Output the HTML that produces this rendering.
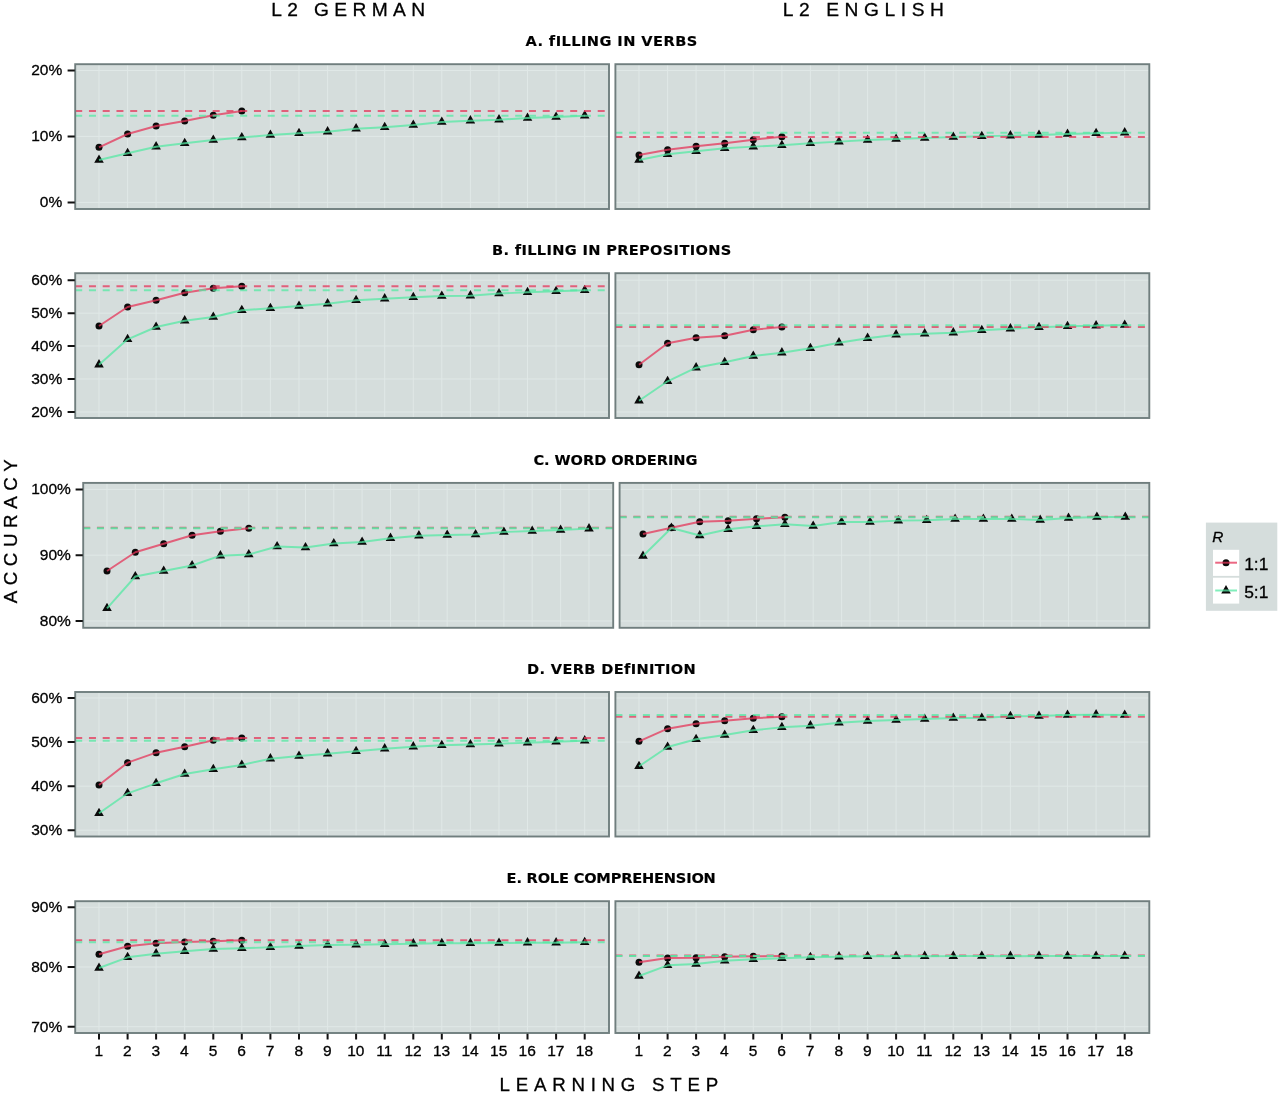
<!DOCTYPE html>
<html lang="en"><head><meta charset="utf-8"><title>Learning curves</title>
<style>html,body{margin:0;padding:0;background:#fff}svg{display:block}text{font-family:"Liberation Sans", Arial, Helvetica, sans-serif;fill:#000;stroke:#000;stroke-width:0.3px}.t{font-family:"DejaVu Sans", "Liberation Sans", sans-serif;font-weight:bold;font-size:14.6px;fill:#000;stroke-width:0.15px}.ax{font-size:15.5px}.hd{font-size:19.2px;letter-spacing:5.35px}</style></head><body>
<svg width="1283" height="1094" viewBox="0 0 1283 1094">
<rect width="1283" height="1094" fill="#fff"/>
<text class="t" x="525.4" y="46.2" textLength="171.8" lengthAdjust="spacing">A. fILLING IN VERBS</text>
<g>
<rect x="75.2" y="64.2" width="533.8" height="144.8" fill="#d5dddc"/>
<path d="M75.2 70.5H609M75.2 136.4H609M75.2 202.4H609M99.0 64.2V209M127.6 64.2V209M156.1 64.2V209M184.7 64.2V209M213.3 64.2V209M241.8 64.2V209M270.4 64.2V209M299.0 64.2V209M327.6 64.2V209M356.1 64.2V209M384.7 64.2V209M413.3 64.2V209M441.8 64.2V209M470.4 64.2V209M499.0 64.2V209M527.5 64.2V209M556.1 64.2V209M584.7 64.2V209" stroke="#e0e8e7" stroke-width="1" fill="none"/>
<g fill="#0a0a0a"><circle cx="99.0" cy="147.3" r="3.5"/><circle cx="127.6" cy="134" r="3.5"/><circle cx="156.1" cy="126" r="3.5"/><circle cx="184.7" cy="121" r="3.5"/><circle cx="213.3" cy="115.3" r="3.5"/><circle cx="241.8" cy="111" r="3.5"/></g>
<path d="M99.0 154.4L103.8 162.8L94.2 162.8ZM127.6 147.7L132.4 156.1L122.8 156.1ZM156.1 141.1L160.9 149.5L151.3 149.5ZM184.7 137.7L189.5 146.1L179.9 146.1ZM213.3 134.4L218.1 142.8L208.5 142.8ZM241.8 131.9L246.7 140.3L237.0 140.3ZM270.4 129.4L275.2 137.8L265.6 137.8ZM299.0 127.7L303.8 136.1L294.2 136.1ZM327.6 126.1L332.4 134.5L322.8 134.5ZM356.1 123.1L360.9 131.5L351.3 131.5ZM384.7 121.7L389.5 130.1L379.9 130.1ZM413.3 119.4L418.1 127.8L408.5 127.8ZM441.8 116.4L446.6 124.8L437.0 124.8ZM470.4 115.1L475.2 123.5L465.6 123.5ZM499.0 114.1L503.8 122.5L494.2 122.5ZM527.5 112.4L532.3 120.8L522.8 120.8ZM556.1 111.4L560.9 119.8L551.3 119.8ZM584.7 110.1L589.5 118.5L579.9 118.5Z" fill="#0a0a0a"/>
<path d="M99.0 147.3L127.6 134L156.1 126L184.7 121L213.3 115.3L241.8 111" stroke="#e4365a" stroke-opacity=".75" stroke-width="1.95" fill="none" stroke-linejoin="round"/>
<path d="M99.0 160L127.6 153.3L156.1 146.7L184.7 143.3L213.3 140L241.8 137.5L270.4 135L299.0 133.3L327.6 131.7L356.1 128.7L384.7 127.3L413.3 125L441.8 122L470.4 120.7L499.0 119.7L527.5 118L556.1 117L584.7 115.7" stroke="#55e8a4" stroke-opacity=".75" stroke-width="1.95" fill="none" stroke-linejoin="round"/>
<path d="M75.2 111H609" stroke="#e4365a" stroke-opacity=".75" stroke-width="2.1" stroke-dasharray="7 6.75" fill="none"/>
<path d="M75.2 115.7H609" stroke="#55e8a4" stroke-opacity="0.75" stroke-width="2.1" stroke-dasharray="7 6.75" fill="none"/>
<rect x="75.2" y="64.2" width="533.8" height="144.8" fill="none" stroke="#707e7e" stroke-width="1.9"/>
</g>
<g>
<rect x="615.4" y="64.2" width="533.9" height="144.8" fill="#d5dddc"/>
<path d="M615.4 70.5H1149.3M615.4 136.4H1149.3M615.4 202.4H1149.3M639.0 64.2V209M667.6 64.2V209M696.1 64.2V209M724.7 64.2V209M753.3 64.2V209M781.9 64.2V209M810.4 64.2V209M839.0 64.2V209M867.6 64.2V209M896.1 64.2V209M924.7 64.2V209M953.3 64.2V209M981.8 64.2V209M1010.4 64.2V209M1039.0 64.2V209M1067.5 64.2V209M1096.1 64.2V209M1124.7 64.2V209" stroke="#e0e8e7" stroke-width="1" fill="none"/>
<g fill="#0a0a0a"><circle cx="639.0" cy="155" r="3.5"/><circle cx="667.6" cy="149.7" r="3.5"/><circle cx="696.1" cy="146.3" r="3.5"/><circle cx="724.7" cy="143.3" r="3.5"/><circle cx="753.3" cy="139.7" r="3.5"/><circle cx="781.9" cy="136.7" r="3.5"/></g>
<path d="M639.0 154.4L643.8 162.8L634.2 162.8ZM667.6 148.7L672.4 157.1L662.8 157.1ZM696.1 145.7L700.9 154.1L691.3 154.1ZM724.7 142.7L729.5 151.1L719.9 151.1ZM753.3 141.0L758.1 149.4L748.5 149.4ZM781.9 139.7L786.6 148.1L777.1 148.1ZM810.4 137.7L815.2 146.1L805.6 146.1ZM839.0 136.0L843.8 144.4L834.2 144.4ZM867.6 134.4L872.4 142.8L862.8 142.8ZM896.1 133.4L900.9 141.8L891.3 141.8ZM924.7 132.4L929.5 140.8L919.9 140.8ZM953.3 131.4L958.1 139.8L948.5 139.8ZM981.8 130.7L986.6 139.1L977.0 139.1ZM1010.4 130.0L1015.2 138.4L1005.6 138.4ZM1039.0 129.4L1043.8 137.8L1034.2 137.8ZM1067.5 128.4L1072.3 136.8L1062.8 136.8ZM1096.1 127.7L1100.9 136.1L1091.3 136.1ZM1124.7 127.1L1129.5 135.5L1119.9 135.5Z" fill="#0a0a0a"/>
<path d="M639.0 155L667.6 149.7L696.1 146.3L724.7 143.3L753.3 139.7L781.9 136.7" stroke="#e4365a" stroke-opacity=".75" stroke-width="1.95" fill="none" stroke-linejoin="round"/>
<path d="M639.0 160L667.6 154.3L696.1 151.3L724.7 148.3L753.3 146.6L781.9 145.3L810.4 143.3L839.0 141.6L867.6 140L896.1 139L924.7 138L953.3 137L981.8 136.3L1010.4 135.6L1039.0 135L1067.5 134L1096.1 133.3L1124.7 132.7" stroke="#55e8a4" stroke-opacity=".75" stroke-width="1.95" fill="none" stroke-linejoin="round"/>
<path d="M615.4 137H1149.3" stroke="#e4365a" stroke-opacity=".75" stroke-width="2.1" stroke-dasharray="7 6.75" fill="none"/>
<path d="M615.4 132.7H1149.3" stroke="#55e8a4" stroke-opacity="0.75" stroke-width="2.1" stroke-dasharray="7 6.75" fill="none"/>
<rect x="615.4" y="64.2" width="533.9" height="144.8" fill="none" stroke="#707e7e" stroke-width="1.9"/>
</g>
<text class="ax" x="62.2" y="75.3" text-anchor="end">20%</text>
<text class="ax" x="62.2" y="141.2" text-anchor="end">10%</text>
<text class="ax" x="62.2" y="207.2" text-anchor="end">0%</text>
<path d="M67.6 70.5H74.8M67.6 136.4H74.8M67.6 202.4H74.8" stroke="#111" stroke-width="2" fill="none"/>
<text class="t" x="492" y="255" textLength="239.2" lengthAdjust="spacing">B. fILLING IN PREPOSITIONS</text>
<g>
<rect x="75.2" y="273.2" width="533.8" height="144.8" fill="#d5dddc"/>
<path d="M75.2 280.2H609M75.2 313.2H609M75.2 346H609M75.2 379H609M75.2 412H609M99.0 273.2V418M127.6 273.2V418M156.1 273.2V418M184.7 273.2V418M213.3 273.2V418M241.8 273.2V418M270.4 273.2V418M299.0 273.2V418M327.6 273.2V418M356.1 273.2V418M384.7 273.2V418M413.3 273.2V418M441.8 273.2V418M470.4 273.2V418M499.0 273.2V418M527.5 273.2V418M556.1 273.2V418M584.7 273.2V418" stroke="#e0e8e7" stroke-width="1" fill="none"/>
<g fill="#0a0a0a"><circle cx="99.0" cy="326" r="3.5"/><circle cx="127.6" cy="307" r="3.5"/><circle cx="156.1" cy="300.3" r="3.5"/><circle cx="184.7" cy="292.7" r="3.5"/><circle cx="213.3" cy="288.3" r="3.5"/><circle cx="241.8" cy="286.3" r="3.5"/></g>
<path d="M99.0 359.1L103.8 367.5L94.2 367.5ZM127.6 333.7L132.4 342.1L122.8 342.1ZM156.1 321.4L160.9 329.8L151.3 329.8ZM184.7 315.1L189.5 323.5L179.9 323.5ZM213.3 311.4L218.1 319.8L208.5 319.8ZM241.8 304.7L246.7 313.1L237.0 313.1ZM270.4 302.7L275.2 311.1L265.6 311.1ZM299.0 300.4L303.8 308.8L294.2 308.8ZM327.6 298.1L332.4 306.5L322.8 306.5ZM356.1 294.7L360.9 303.1L351.3 303.1ZM384.7 293.1L389.5 301.5L379.9 301.5ZM413.3 291.7L418.1 300.1L408.5 300.1ZM441.8 290.4L446.6 298.8L437.0 298.8ZM470.4 290.1L475.2 298.5L465.6 298.5ZM499.0 287.9L503.8 296.3L494.2 296.3ZM527.5 286.7L532.3 295.1L522.8 295.1ZM556.1 285.7L560.9 294.1L551.3 294.1ZM584.7 284.7L589.5 293.1L579.9 293.1Z" fill="#0a0a0a"/>
<path d="M99.0 326L127.6 307L156.1 300.3L184.7 292.7L213.3 288.3L241.8 286.3" stroke="#e4365a" stroke-opacity=".75" stroke-width="1.95" fill="none" stroke-linejoin="round"/>
<path d="M99.0 364.7L127.6 339.3L156.1 327L184.7 320.7L213.3 317L241.8 310.3L270.4 308.3L299.0 306L327.6 303.7L356.1 300.3L384.7 298.7L413.3 297.3L441.8 296L470.4 295.7L499.0 293.5L527.5 292.3L556.1 291.3L584.7 290.3" stroke="#55e8a4" stroke-opacity=".75" stroke-width="1.95" fill="none" stroke-linejoin="round"/>
<path d="M75.2 286.3H609" stroke="#e4365a" stroke-opacity=".75" stroke-width="2.1" stroke-dasharray="7 6.75" fill="none"/>
<path d="M75.2 290.3H609" stroke="#55e8a4" stroke-opacity="0.75" stroke-width="2.1" stroke-dasharray="7 6.75" fill="none"/>
<rect x="75.2" y="273.2" width="533.8" height="144.8" fill="none" stroke="#707e7e" stroke-width="1.9"/>
</g>
<g>
<rect x="615.4" y="273.2" width="533.9" height="144.8" fill="#d5dddc"/>
<path d="M615.4 280.2H1149.3M615.4 313.2H1149.3M615.4 346H1149.3M615.4 379H1149.3M615.4 412H1149.3M639.0 273.2V418M667.6 273.2V418M696.1 273.2V418M724.7 273.2V418M753.3 273.2V418M781.9 273.2V418M810.4 273.2V418M839.0 273.2V418M867.6 273.2V418M896.1 273.2V418M924.7 273.2V418M953.3 273.2V418M981.8 273.2V418M1010.4 273.2V418M1039.0 273.2V418M1067.5 273.2V418M1096.1 273.2V418M1124.7 273.2V418" stroke="#e0e8e7" stroke-width="1" fill="none"/>
<g fill="#0a0a0a"><circle cx="639.0" cy="364.7" r="3.5"/><circle cx="667.6" cy="343.3" r="3.5"/><circle cx="696.1" cy="337.7" r="3.5"/><circle cx="724.7" cy="335.7" r="3.5"/><circle cx="753.3" cy="329.7" r="3.5"/><circle cx="781.9" cy="327" r="3.5"/></g>
<path d="M639.0 395.1L643.8 403.5L634.2 403.5ZM667.6 375.7L672.4 384.1L662.8 384.1ZM696.1 362.1L700.9 370.5L691.3 370.5ZM724.7 356.7L729.5 365.1L719.9 365.1ZM753.3 350.4L758.1 358.8L748.5 358.8ZM781.9 347.1L786.6 355.5L777.1 355.5ZM810.4 342.7L815.2 351.1L805.6 351.1ZM839.0 337.1L843.8 345.5L834.2 345.5ZM867.6 332.6L872.4 341.0L862.8 341.0ZM896.1 329.1L900.9 337.5L891.3 337.5ZM924.7 328.1L929.5 336.5L919.9 336.5ZM953.3 327.1L958.1 335.5L948.5 335.5ZM981.8 324.7L986.6 333.1L977.0 333.1ZM1010.4 323.1L1015.2 331.5L1005.6 331.5ZM1039.0 321.7L1043.8 330.1L1034.2 330.1ZM1067.5 320.7L1072.3 329.1L1062.8 329.1ZM1096.1 320.1L1100.9 328.5L1091.3 328.5ZM1124.7 319.4L1129.5 327.8L1119.9 327.8Z" fill="#0a0a0a"/>
<path d="M639.0 364.7L667.6 343.3L696.1 337.7L724.7 335.7L753.3 329.7L781.9 327" stroke="#e4365a" stroke-opacity=".75" stroke-width="1.95" fill="none" stroke-linejoin="round"/>
<path d="M639.0 400.7L667.6 381.3L696.1 367.7L724.7 362.3L753.3 356L781.9 352.7L810.4 348.3L839.0 342.7L867.6 338.2L896.1 334.7L924.7 333.7L953.3 332.7L981.8 330.3L1010.4 328.7L1039.0 327.3L1067.5 326.3L1096.1 325.7L1124.7 325" stroke="#55e8a4" stroke-opacity=".75" stroke-width="1.95" fill="none" stroke-linejoin="round"/>
<path d="M615.4 327H1149.3" stroke="#e4365a" stroke-opacity=".75" stroke-width="2.1" stroke-dasharray="7 6.75" fill="none"/>
<path d="M615.4 325.3H1149.3" stroke="#55e8a4" stroke-opacity="0.75" stroke-width="2.1" stroke-dasharray="7 6.75" fill="none"/>
<rect x="615.4" y="273.2" width="533.9" height="144.8" fill="none" stroke="#707e7e" stroke-width="1.9"/>
</g>
<text class="ax" x="62.2" y="285.0" text-anchor="end">60%</text>
<text class="ax" x="62.2" y="318.0" text-anchor="end">50%</text>
<text class="ax" x="62.2" y="350.8" text-anchor="end">40%</text>
<text class="ax" x="62.2" y="383.8" text-anchor="end">30%</text>
<text class="ax" x="62.2" y="416.8" text-anchor="end">20%</text>
<path d="M67.6 280.2H74.8M67.6 313.2H74.8M67.6 346H74.8M67.6 379H74.8M67.6 412H74.8" stroke="#111" stroke-width="2" fill="none"/>
<text class="t" x="533.4" y="465" textLength="164.0" lengthAdjust="spacing">C. WORD ORDERING</text>
<g>
<rect x="83.2" y="482.9" width="530.0" height="144.9" fill="#d5dddc"/>
<path d="M83.2 489.4H613.2M83.2 555.2H613.2M83.2 621H613.2M107.0 482.9V627.8M135.3 482.9V627.8M163.7 482.9V627.8M192.1 482.9V627.8M220.4 482.9V627.8M248.8 482.9V627.8M277.1 482.9V627.8M305.5 482.9V627.8M333.8 482.9V627.8M362.1 482.9V627.8M390.5 482.9V627.8M418.9 482.9V627.8M447.2 482.9V627.8M475.6 482.9V627.8M503.9 482.9V627.8M532.2 482.9V627.8M560.6 482.9V627.8M589.0 482.9V627.8" stroke="#e0e8e7" stroke-width="1" fill="none"/>
<g fill="#0a0a0a"><circle cx="107.0" cy="571" r="3.5"/><circle cx="135.3" cy="552.3" r="3.5"/><circle cx="163.7" cy="543.7" r="3.5"/><circle cx="192.1" cy="535.3" r="3.5"/><circle cx="220.4" cy="531.3" r="3.5"/><circle cx="248.8" cy="528.3" r="3.5"/></g>
<path d="M107.0 602.7L111.8 611.1L102.2 611.1ZM135.3 570.9L140.2 579.3L130.5 579.3ZM163.7 565.4L168.5 573.8L158.9 573.8ZM192.1 559.9L196.9 568.3L187.2 568.3ZM220.4 550.1L225.2 558.5L215.6 558.5ZM248.8 548.9L253.6 557.3L243.9 557.3ZM277.1 540.9L281.9 549.3L272.3 549.3ZM305.5 541.9L310.3 550.3L300.7 550.3ZM333.8 537.9L338.6 546.3L329.0 546.3ZM362.1 536.4L366.9 544.8L357.3 544.8ZM390.5 532.6L395.3 541.0L385.7 541.0ZM418.9 530.1L423.7 538.5L414.1 538.5ZM447.2 529.4L452.0 537.8L442.4 537.8ZM475.6 528.9L480.4 537.3L470.8 537.3ZM503.9 526.4L508.7 534.8L499.1 534.8ZM532.2 525.4L537.0 533.8L527.5 533.8ZM560.6 524.4L565.4 532.8L555.8 532.8ZM589.0 523.0L593.8 531.4L584.2 531.4Z" fill="#0a0a0a"/>
<path d="M107.0 571L135.3 552.3L163.7 543.7L192.1 535.3L220.4 531.3L248.8 528.3" stroke="#e4365a" stroke-opacity=".75" stroke-width="1.95" fill="none" stroke-linejoin="round"/>
<path d="M107.0 608.3L135.3 576.5L163.7 571L192.1 565.5L220.4 555.7L248.8 554.5L277.1 546.5L305.5 547.5L333.8 543.5L362.1 542L390.5 538.2L418.9 535.7L447.2 535L475.6 534.5L503.9 532L532.2 531L560.6 530L589.0 528.6" stroke="#55e8a4" stroke-opacity=".75" stroke-width="1.95" fill="none" stroke-linejoin="round"/>
<path d="M83.2 527.8H613.2" stroke="#e4365a" stroke-opacity=".75" stroke-width="2.1" stroke-dasharray="7 6.75" fill="none"/>
<path d="M83.2 528.3H613.2" stroke="#55e8a4" stroke-opacity="0.9" stroke-width="2.1" stroke-dasharray="7 6.75" fill="none"/>
<rect x="83.2" y="482.9" width="530.0" height="144.9" fill="none" stroke="#707e7e" stroke-width="1.9"/>
</g>
<g>
<rect x="619.6" y="482.9" width="529.7" height="144.9" fill="#d5dddc"/>
<path d="M619.6 489.4H1149.3M619.6 555.2H1149.3M619.6 621H1149.3M643.0 482.9V627.8M671.4 482.9V627.8M699.7 482.9V627.8M728.1 482.9V627.8M756.5 482.9V627.8M784.9 482.9V627.8M813.2 482.9V627.8M841.6 482.9V627.8M870.0 482.9V627.8M898.3 482.9V627.8M926.7 482.9V627.8M955.1 482.9V627.8M983.4 482.9V627.8M1011.8 482.9V627.8M1040.2 482.9V627.8M1068.5 482.9V627.8M1096.9 482.9V627.8M1125.3 482.9V627.8" stroke="#e0e8e7" stroke-width="1" fill="none"/>
<g fill="#0a0a0a"><circle cx="643.0" cy="534" r="3.5"/><circle cx="671.4" cy="527.7" r="3.5"/><circle cx="699.7" cy="521.7" r="3.5"/><circle cx="728.1" cy="520.7" r="3.5"/><circle cx="756.5" cy="518.7" r="3.5"/><circle cx="784.9" cy="517.3" r="3.5"/></g>
<path d="M643.0 550.4L647.8 558.8L638.2 558.8ZM671.4 522.4L676.2 530.8L666.6 530.8ZM699.7 529.9L704.5 538.3L694.9 538.3ZM728.1 523.7L732.9 532.1L723.3 532.1ZM756.5 520.7L761.3 529.1L751.7 529.1ZM784.9 518.7L789.6 527.1L780.1 527.1ZM813.2 520.4L818.0 528.8L808.4 528.8ZM841.6 516.4L846.4 524.8L836.8 524.8ZM870.0 516.4L874.8 524.8L865.2 524.8ZM898.3 515.0L903.1 523.4L893.5 523.4ZM926.7 514.7L931.5 523.1L921.9 523.1ZM955.1 513.4L959.9 521.8L950.3 521.8ZM983.4 513.4L988.2 521.8L978.6 521.8ZM1011.8 513.4L1016.6 521.8L1007.0 521.8ZM1040.2 514.4L1045.0 522.8L1035.4 522.8ZM1068.5 512.4L1073.3 520.8L1063.8 520.8ZM1096.9 511.4L1101.7 519.8L1092.1 519.8ZM1125.3 511.4L1130.1 519.8L1120.5 519.8Z" fill="#0a0a0a"/>
<path d="M643.0 534L671.4 527.7L699.7 521.7L728.1 520.7L756.5 518.7L784.9 517.3" stroke="#e4365a" stroke-opacity=".75" stroke-width="1.95" fill="none" stroke-linejoin="round"/>
<path d="M643.0 556L671.4 528L699.7 535.5L728.1 529.3L756.5 526.3L784.9 524.3L813.2 526L841.6 522L870.0 522L898.3 520.6L926.7 520.3L955.1 519L983.4 519L1011.8 519L1040.2 520L1068.5 518L1096.9 517L1125.3 517" stroke="#55e8a4" stroke-opacity=".75" stroke-width="1.95" fill="none" stroke-linejoin="round"/>
<path d="M619.6 516.8H1149.3" stroke="#e4365a" stroke-opacity=".75" stroke-width="2.1" stroke-dasharray="7 6.75" fill="none"/>
<path d="M619.6 517.3H1149.3" stroke="#55e8a4" stroke-opacity="0.9" stroke-width="2.1" stroke-dasharray="7 6.75" fill="none"/>
<rect x="619.6" y="482.9" width="529.7" height="144.9" fill="none" stroke="#707e7e" stroke-width="1.9"/>
</g>
<text class="ax" x="70.9" y="494.2" text-anchor="end">100%</text>
<text class="ax" x="70.9" y="560.0" text-anchor="end">90%</text>
<text class="ax" x="70.9" y="625.8" text-anchor="end">80%</text>
<path d="M75.6 489.4H82.8M75.6 555.2H82.8M75.6 621H82.8" stroke="#111" stroke-width="2" fill="none"/>
<text class="t" x="527" y="673.8" textLength="168.8" lengthAdjust="spacing">D. VERB DEfINITION</text>
<g>
<rect x="75.2" y="692" width="533.8" height="144.5" fill="#d5dddc"/>
<path d="M75.2 698H609M75.2 742.1H609M75.2 786.2H609M75.2 830.2H609M99.0 692V836.5M127.6 692V836.5M156.1 692V836.5M184.7 692V836.5M213.3 692V836.5M241.8 692V836.5M270.4 692V836.5M299.0 692V836.5M327.6 692V836.5M356.1 692V836.5M384.7 692V836.5M413.3 692V836.5M441.8 692V836.5M470.4 692V836.5M499.0 692V836.5M527.5 692V836.5M556.1 692V836.5M584.7 692V836.5" stroke="#e0e8e7" stroke-width="1" fill="none"/>
<g fill="#0a0a0a"><circle cx="99.0" cy="785" r="3.5"/><circle cx="127.6" cy="762.7" r="3.5"/><circle cx="156.1" cy="752.7" r="3.5"/><circle cx="184.7" cy="746.7" r="3.5"/><circle cx="213.3" cy="740.3" r="3.5"/><circle cx="241.8" cy="738" r="3.5"/></g>
<path d="M99.0 807.7L103.8 816.1L94.2 816.1ZM127.6 787.7L132.4 796.1L122.8 796.1ZM156.1 777.7L160.9 786.1L151.3 786.1ZM184.7 768.4L189.5 776.8L179.9 776.8ZM213.3 763.7L218.1 772.1L208.5 772.1ZM241.8 759.4L246.7 767.8L237.0 767.8ZM270.4 753.1L275.2 761.5L265.6 761.5ZM299.0 750.4L303.8 758.8L294.2 758.8ZM327.6 748.1L332.4 756.5L322.8 756.5ZM356.1 745.7L360.9 754.1L351.3 754.1ZM384.7 743.1L389.5 751.5L379.9 751.5ZM413.3 741.1L418.1 749.5L408.5 749.5ZM441.8 739.7L446.6 748.1L437.0 748.1ZM470.4 738.9L475.2 747.3L465.6 747.3ZM499.0 738.1L503.8 746.5L494.2 746.5ZM527.5 737.1L532.3 745.5L522.8 745.5ZM556.1 736.1L560.9 744.5L551.3 744.5ZM584.7 735.1L589.5 743.5L579.9 743.5Z" fill="#0a0a0a"/>
<path d="M99.0 785L127.6 762.7L156.1 752.7L184.7 746.7L213.3 740.3L241.8 738" stroke="#e4365a" stroke-opacity=".75" stroke-width="1.95" fill="none" stroke-linejoin="round"/>
<path d="M99.0 813.3L127.6 793.3L156.1 783.3L184.7 774L213.3 769.3L241.8 765L270.4 758.7L299.0 756L327.6 753.7L356.1 751.3L384.7 748.7L413.3 746.7L441.8 745.3L470.4 744.5L499.0 743.7L527.5 742.7L556.1 741.7L584.7 740.7" stroke="#55e8a4" stroke-opacity=".75" stroke-width="1.95" fill="none" stroke-linejoin="round"/>
<path d="M75.2 738H609" stroke="#e4365a" stroke-opacity=".75" stroke-width="2.1" stroke-dasharray="7 6.75" fill="none"/>
<path d="M75.2 740.7H609" stroke="#55e8a4" stroke-opacity="0.75" stroke-width="2.1" stroke-dasharray="7 6.75" fill="none"/>
<rect x="75.2" y="692" width="533.8" height="144.5" fill="none" stroke="#707e7e" stroke-width="1.9"/>
</g>
<g>
<rect x="615.4" y="692" width="533.9" height="144.5" fill="#d5dddc"/>
<path d="M615.4 698H1149.3M615.4 742.1H1149.3M615.4 786.2H1149.3M615.4 830.2H1149.3M639.0 692V836.5M667.6 692V836.5M696.1 692V836.5M724.7 692V836.5M753.3 692V836.5M781.9 692V836.5M810.4 692V836.5M839.0 692V836.5M867.6 692V836.5M896.1 692V836.5M924.7 692V836.5M953.3 692V836.5M981.8 692V836.5M1010.4 692V836.5M1039.0 692V836.5M1067.5 692V836.5M1096.1 692V836.5M1124.7 692V836.5" stroke="#e0e8e7" stroke-width="1" fill="none"/>
<g fill="#0a0a0a"><circle cx="639.0" cy="741.3" r="3.5"/><circle cx="667.6" cy="728.7" r="3.5"/><circle cx="696.1" cy="723.7" r="3.5"/><circle cx="724.7" cy="720.7" r="3.5"/><circle cx="753.3" cy="718.3" r="3.5"/><circle cx="781.9" cy="716.7" r="3.5"/></g>
<path d="M639.0 760.7L643.8 769.1L634.2 769.1ZM667.6 741.4L672.4 749.8L662.8 749.8ZM696.1 733.7L700.9 742.1L691.3 742.1ZM724.7 729.4L729.5 737.8L719.9 737.8ZM753.3 724.7L758.1 733.1L748.5 733.1ZM781.9 721.7L786.6 730.1L777.1 730.1ZM810.4 720.1L815.2 728.5L805.6 728.5ZM839.0 717.1L843.8 725.5L834.2 725.5ZM867.6 715.4L872.4 723.8L862.8 723.8ZM896.1 714.4L900.9 722.8L891.3 722.8ZM924.7 713.4L929.5 721.8L919.9 721.8ZM953.3 712.4L958.1 720.8L948.5 720.8ZM981.8 712.4L986.6 720.8L977.0 720.8ZM1010.4 710.7L1015.2 719.1L1005.6 719.1ZM1039.0 710.4L1043.8 718.8L1034.2 718.8ZM1067.5 709.4L1072.3 717.8L1062.8 717.8ZM1096.1 709.0L1100.9 717.4L1091.3 717.4ZM1124.7 709.4L1129.5 717.8L1119.9 717.8Z" fill="#0a0a0a"/>
<path d="M639.0 741.3L667.6 728.7L696.1 723.7L724.7 720.7L753.3 718.3L781.9 716.7" stroke="#e4365a" stroke-opacity=".75" stroke-width="1.95" fill="none" stroke-linejoin="round"/>
<path d="M639.0 766.3L667.6 747L696.1 739.3L724.7 735L753.3 730.3L781.9 727.3L810.4 725.7L839.0 722.7L867.6 721L896.1 720L924.7 719L953.3 718L981.8 718L1010.4 716.3L1039.0 716L1067.5 715L1096.1 714.6L1124.7 715" stroke="#55e8a4" stroke-opacity=".75" stroke-width="1.95" fill="none" stroke-linejoin="round"/>
<path d="M615.4 716.7H1149.3" stroke="#e4365a" stroke-opacity=".75" stroke-width="2.1" stroke-dasharray="7 6.75" fill="none"/>
<path d="M615.4 715H1149.3" stroke="#55e8a4" stroke-opacity="0.75" stroke-width="2.1" stroke-dasharray="7 6.75" fill="none"/>
<rect x="615.4" y="692" width="533.9" height="144.5" fill="none" stroke="#707e7e" stroke-width="1.9"/>
</g>
<text class="ax" x="62.2" y="702.8" text-anchor="end">60%</text>
<text class="ax" x="62.2" y="746.9" text-anchor="end">50%</text>
<text class="ax" x="62.2" y="791.0" text-anchor="end">40%</text>
<text class="ax" x="62.2" y="835.0" text-anchor="end">30%</text>
<path d="M67.6 698H74.8M67.6 742.1H74.8M67.6 786.2H74.8M67.6 830.2H74.8" stroke="#111" stroke-width="2" fill="none"/>
<text class="t" x="506.6" y="883.4" textLength="209.2" lengthAdjust="spacing">E. ROLE COMPREHENSION</text>
<g>
<rect x="75.2" y="901.2" width="533.8" height="131.8" fill="#d5dddc"/>
<path d="M75.2 907.3H609M75.2 967H609M75.2 1026.7H609M99.0 901.2V1033M127.6 901.2V1033M156.1 901.2V1033M184.7 901.2V1033M213.3 901.2V1033M241.8 901.2V1033M270.4 901.2V1033M299.0 901.2V1033M327.6 901.2V1033M356.1 901.2V1033M384.7 901.2V1033M413.3 901.2V1033M441.8 901.2V1033M470.4 901.2V1033M499.0 901.2V1033M527.5 901.2V1033M556.1 901.2V1033M584.7 901.2V1033" stroke="#e0e8e7" stroke-width="1" fill="none"/>
<g fill="#0a0a0a"><circle cx="99.0" cy="954.3" r="3.5"/><circle cx="127.6" cy="946.3" r="3.5"/><circle cx="156.1" cy="943.3" r="3.5"/><circle cx="184.7" cy="942" r="3.5"/><circle cx="213.3" cy="941.3" r="3.5"/><circle cx="241.8" cy="940.3" r="3.5"/></g>
<path d="M99.0 962.4L103.8 970.8L94.2 970.8ZM127.6 951.7L132.4 960.1L122.8 960.1ZM156.1 948.1L160.9 956.5L151.3 956.5ZM184.7 945.7L189.5 954.1L179.9 954.1ZM213.3 943.4L218.1 951.8L208.5 951.8ZM241.8 942.7L246.7 951.1L237.0 951.1ZM270.4 941.7L275.2 950.1L265.6 950.1ZM299.0 940.4L303.8 948.8L294.2 948.8ZM327.6 939.4L332.4 947.8L322.8 947.8ZM356.1 939.1L360.9 947.5L351.3 947.5ZM384.7 938.7L389.5 947.1L379.9 947.1ZM413.3 938.1L418.1 946.5L408.5 946.5ZM441.8 937.7L446.6 946.1L437.0 946.1ZM470.4 937.7L475.2 946.1L465.6 946.1ZM499.0 937.4L503.8 945.8L494.2 945.8ZM527.5 937.1L532.3 945.5L522.8 945.5ZM556.1 937.1L560.9 945.5L551.3 945.5ZM584.7 936.7L589.5 945.1L579.9 945.1Z" fill="#0a0a0a"/>
<path d="M99.0 954.3L127.6 946.3L156.1 943.3L184.7 942L213.3 941.3L241.8 940.3" stroke="#e4365a" stroke-opacity=".75" stroke-width="1.95" fill="none" stroke-linejoin="round"/>
<path d="M99.0 968L127.6 957.3L156.1 953.7L184.7 951.3L213.3 949L241.8 948.3L270.4 947.3L299.0 946L327.6 945L356.1 944.7L384.7 944.3L413.3 943.7L441.8 943.3L470.4 943.3L499.0 943L527.5 942.7L556.1 942.7L584.7 942.3" stroke="#55e8a4" stroke-opacity=".75" stroke-width="1.95" fill="none" stroke-linejoin="round"/>
<path d="M75.2 940.3H609" stroke="#e4365a" stroke-opacity=".75" stroke-width="2.1" stroke-dasharray="7 6.75" fill="none"/>
<path d="M75.2 942.3H609" stroke="#55e8a4" stroke-opacity="0.75" stroke-width="2.1" stroke-dasharray="7 6.75" fill="none"/>
<rect x="75.2" y="901.2" width="533.8" height="131.8" fill="none" stroke="#707e7e" stroke-width="1.9"/>
</g>
<g>
<rect x="615.4" y="901.2" width="533.9" height="131.8" fill="#d5dddc"/>
<path d="M615.4 907.3H1149.3M615.4 967H1149.3M615.4 1026.7H1149.3M639.0 901.2V1033M667.6 901.2V1033M696.1 901.2V1033M724.7 901.2V1033M753.3 901.2V1033M781.9 901.2V1033M810.4 901.2V1033M839.0 901.2V1033M867.6 901.2V1033M896.1 901.2V1033M924.7 901.2V1033M953.3 901.2V1033M981.8 901.2V1033M1010.4 901.2V1033M1039.0 901.2V1033M1067.5 901.2V1033M1096.1 901.2V1033M1124.7 901.2V1033" stroke="#e0e8e7" stroke-width="1" fill="none"/>
<g fill="#0a0a0a"><circle cx="639.0" cy="962.3" r="3.5"/><circle cx="667.6" cy="958" r="3.5"/><circle cx="696.1" cy="957.7" r="3.5"/><circle cx="724.7" cy="956.7" r="3.5"/><circle cx="753.3" cy="956.3" r="3.5"/><circle cx="781.9" cy="956" r="3.5"/></g>
<path d="M639.0 970.4L643.8 978.8L634.2 978.8ZM667.6 959.7L672.4 968.1L662.8 968.1ZM696.1 958.4L700.9 966.8L691.3 966.8ZM724.7 955.1L729.5 963.5L719.9 963.5ZM753.3 953.7L758.1 962.1L748.5 962.1ZM781.9 952.7L786.6 961.1L777.1 961.1ZM810.4 951.7L815.2 960.1L805.6 960.1ZM839.0 951.1L843.8 959.5L834.2 959.5ZM867.6 950.7L872.4 959.1L862.8 959.1ZM896.1 950.6L900.9 959.0L891.3 959.0ZM924.7 950.6L929.5 959.0L919.9 959.0ZM953.3 950.5L958.1 958.9L948.5 958.9ZM981.8 950.4L986.6 958.8L977.0 958.8ZM1010.4 950.6L1015.2 959.0L1005.6 959.0ZM1039.0 950.4L1043.8 958.8L1034.2 958.8ZM1067.5 950.4L1072.3 958.8L1062.8 958.8ZM1096.1 950.4L1100.9 958.8L1091.3 958.8ZM1124.7 950.4L1129.5 958.8L1119.9 958.8Z" fill="#0a0a0a"/>
<path d="M639.0 962.3L667.6 958L696.1 957.7L724.7 956.7L753.3 956.3L781.9 956" stroke="#e4365a" stroke-opacity=".75" stroke-width="1.95" fill="none" stroke-linejoin="round"/>
<path d="M639.0 976L667.6 965.3L696.1 964L724.7 960.7L753.3 959.3L781.9 958.3L810.4 957.3L839.0 956.7L867.6 956.3L896.1 956.2L924.7 956.2L953.3 956.1L981.8 956L1010.4 956.2L1039.0 956L1067.5 956L1096.1 956L1124.7 956" stroke="#55e8a4" stroke-opacity=".75" stroke-width="1.95" fill="none" stroke-linejoin="round"/>
<path d="M615.4 955.5H1149.3" stroke="#e4365a" stroke-opacity=".75" stroke-width="2.1" stroke-dasharray="7 6.75" fill="none"/>
<path d="M615.4 956H1149.3" stroke="#55e8a4" stroke-opacity="0.9" stroke-width="2.1" stroke-dasharray="7 6.75" fill="none"/>
<rect x="615.4" y="901.2" width="533.9" height="131.8" fill="none" stroke="#707e7e" stroke-width="1.9"/>
</g>
<text class="ax" x="62.2" y="912.1" text-anchor="end">90%</text>
<text class="ax" x="62.2" y="971.8" text-anchor="end">80%</text>
<text class="ax" x="62.2" y="1031.5" text-anchor="end">70%</text>
<path d="M67.6 907.3H74.8M67.6 967H74.8M67.6 1026.7H74.8" stroke="#111" stroke-width="2" fill="none"/>
<text class="ax" x="98.7" y="1056.3" text-anchor="middle">1</text>
<text class="ax" x="127.3" y="1056.3" text-anchor="middle">2</text>
<text class="ax" x="155.8" y="1056.3" text-anchor="middle">3</text>
<text class="ax" x="184.4" y="1056.3" text-anchor="middle">4</text>
<text class="ax" x="213.0" y="1056.3" text-anchor="middle">5</text>
<text class="ax" x="241.5" y="1056.3" text-anchor="middle">6</text>
<text class="ax" x="270.1" y="1056.3" text-anchor="middle">7</text>
<text class="ax" x="298.7" y="1056.3" text-anchor="middle">8</text>
<text class="ax" x="327.3" y="1056.3" text-anchor="middle">9</text>
<text class="ax" x="355.8" y="1056.3" text-anchor="middle">10</text>
<text class="ax" x="384.4" y="1056.3" text-anchor="middle">11</text>
<text class="ax" x="413.0" y="1056.3" text-anchor="middle">12</text>
<text class="ax" x="441.5" y="1056.3" text-anchor="middle">13</text>
<text class="ax" x="470.1" y="1056.3" text-anchor="middle">14</text>
<text class="ax" x="498.7" y="1056.3" text-anchor="middle">15</text>
<text class="ax" x="527.2" y="1056.3" text-anchor="middle">16</text>
<text class="ax" x="555.8" y="1056.3" text-anchor="middle">17</text>
<text class="ax" x="584.4" y="1056.3" text-anchor="middle">18</text>
<path d="M99.0 1033.8V1039.4M127.6 1033.8V1039.4M156.1 1033.8V1039.4M184.7 1033.8V1039.4M213.3 1033.8V1039.4M241.8 1033.8V1039.4M270.4 1033.8V1039.4M299.0 1033.8V1039.4M327.6 1033.8V1039.4M356.1 1033.8V1039.4M384.7 1033.8V1039.4M413.3 1033.8V1039.4M441.8 1033.8V1039.4M470.4 1033.8V1039.4M499.0 1033.8V1039.4M527.5 1033.8V1039.4M556.1 1033.8V1039.4M584.7 1033.8V1039.4" stroke="#111" stroke-width="2" fill="none"/>
<text class="ax" x="638.7" y="1056.3" text-anchor="middle">1</text>
<text class="ax" x="667.3" y="1056.3" text-anchor="middle">2</text>
<text class="ax" x="695.8" y="1056.3" text-anchor="middle">3</text>
<text class="ax" x="724.4" y="1056.3" text-anchor="middle">4</text>
<text class="ax" x="753.0" y="1056.3" text-anchor="middle">5</text>
<text class="ax" x="781.6" y="1056.3" text-anchor="middle">6</text>
<text class="ax" x="810.1" y="1056.3" text-anchor="middle">7</text>
<text class="ax" x="838.7" y="1056.3" text-anchor="middle">8</text>
<text class="ax" x="867.3" y="1056.3" text-anchor="middle">9</text>
<text class="ax" x="895.8" y="1056.3" text-anchor="middle">10</text>
<text class="ax" x="924.4" y="1056.3" text-anchor="middle">11</text>
<text class="ax" x="953.0" y="1056.3" text-anchor="middle">12</text>
<text class="ax" x="981.5" y="1056.3" text-anchor="middle">13</text>
<text class="ax" x="1010.1" y="1056.3" text-anchor="middle">14</text>
<text class="ax" x="1038.7" y="1056.3" text-anchor="middle">15</text>
<text class="ax" x="1067.2" y="1056.3" text-anchor="middle">16</text>
<text class="ax" x="1095.8" y="1056.3" text-anchor="middle">17</text>
<text class="ax" x="1124.4" y="1056.3" text-anchor="middle">18</text>
<path d="M639.0 1033.8V1039.4M667.6 1033.8V1039.4M696.1 1033.8V1039.4M724.7 1033.8V1039.4M753.3 1033.8V1039.4M781.9 1033.8V1039.4M810.4 1033.8V1039.4M839.0 1033.8V1039.4M867.6 1033.8V1039.4M896.1 1033.8V1039.4M924.7 1033.8V1039.4M953.3 1033.8V1039.4M981.8 1033.8V1039.4M1010.4 1033.8V1039.4M1039.0 1033.8V1039.4M1067.5 1033.8V1039.4M1096.1 1033.8V1039.4M1124.7 1033.8V1039.4" stroke="#111" stroke-width="2" fill="none"/>
<text class="hd" x="271.3" y="16.2">L2 GERMAN</text>
<text class="hd" x="782.8" y="16.2" style="letter-spacing:5.58px">L2 ENGLISH</text>
<text x="499.6" y="1090.8" style="font-size:18.7px;letter-spacing:5.75px">LEARNING STEP</text>
<text transform="translate(17.2 603.3) rotate(-90)" style="font-size:18.7px;letter-spacing:5.6px">ACCURACY</text>
<rect x="1205.9" y="522.6" width="71.4" height="88.2" fill="#d5dddc"/>
<text x="1212.2" y="541.9" style="font-size:15.4px;font-style:italic">R</text>
<rect x="1213" y="549.8" width="26.2" height="26.1" fill="#fff"/>
<rect x="1213" y="577.7" width="26.2" height="25.9" fill="#fff"/>
<circle cx="1226" cy="562.7" r="3.5" fill="#0a0a0a"/>
<path d="M1226.0 585.0L1230.8 593.4L1221.2 593.4Z" fill="#0a0a0a"/>
<path d="M1215.2 562.7H1237" stroke="#e4365a" stroke-opacity=".75" stroke-width="2"/>
<path d="M1215.2 590.5H1237" stroke="#55e8a4" stroke-opacity=".75" stroke-width="2"/>
<text x="1244.2" y="570.4" style="font-size:17.4px">1:1</text>
<text x="1244.2" y="598.2" style="font-size:17.4px">5:1</text>
</svg></body></html>
